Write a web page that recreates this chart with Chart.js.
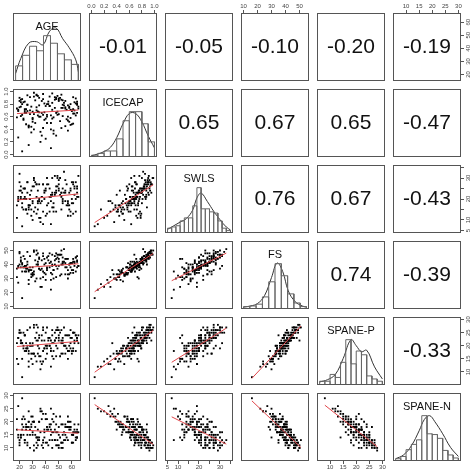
<!DOCTYPE html>
<html><head><meta charset="utf-8">
<script src="https://cdn.jsdelivr.net/npm/chart.js@4"></script>
<style>
html,body{margin:0;padding:0;background:#fff;width:474px;height:474px;overflow:hidden;position:relative}
canvas{position:absolute}
</style></head><body>
<script>
const varNames = ['AGE','ICECAP','SWLS','FS','SPANE-P','SPANE-N'];
const age = [45,23,61,34,52,29,38,57,19,48,33,64,26,41,55,22,47,36,59,30,43,62,27,50,35,21,58,40,31,53,24,46,63,28,39,56,20,44,32,60,25,49,37,54,18,42,65,29,51,34,22,57,45,38,61,27,48,33,53,23,40,62,30,47,36,58,21,44,55,26,41,64,31,50,19,43,59,35,24,52,
 28,55,37,63,20,46,33,59,41,25,52,30,61,44,22,49,35,57,27,64,39,18,50,31,60,43,24,54,36,47,21,58,32,45,62,26,40,53,29,56,34,48,19,65,38,23,51,42,60,27,33,46,55,22,39,63,30,50,25,44,57,35,20,48,61,28,41,53,37,24,59,31,45,64,26,52,38,21,49,34];
const icecap = [.82,.55,.91,.68,.42,.76,.88,.60,.71,.30,.95,.66,.79,.50,.85,.63,.74,.20,.80,.58,.92,.70,.45,.87,.67,.83,.52,.77,.98,.61,.72,.38,.89,.64,.81,.56,.75,.10,.86,.69,.48,.93,.66,.78,.59,.84,.73,.35,.90,.62,.80,.54,.71,.96,.65,.43,.88,.70,.79,.57,.25,.83,.68,.91,.60,.76,.87,.50,.73,.94,.63,.81,.40,.85,.69,.77,.47,.90,.66,.74,
 .70,.45,.85,.62,.90,.33,.75,.58,.80,.66,.95,.52,.72,.40,.88,.68,.60,.78,.15,.84,.55,.73,.64,.92,.48,.77,.69,.82,.36,.87,.61,.74,.50,.97,.65,.79,.57,.86,.44,.71,.68,.90,.27,.76,.63,.83,.53,.80,.70,.46,.94,.59,.75,.05,.67,.81,.56,.89,.72,.62,.38,.78,.85,.66,.49,.91,.60,.74,.30,.84,.71,.64,.57,.79,.69,.87,.42,.76,.63,.93];
const swls = [22,20,28,18,15,24,27,19,20,14,27,21,23,13,29,18,23,11,24,18,25,22,17,25,20,26,15,25,30,19,21,16,28,20,24,17,24,8,28,20,15,26,21,23,17,27,21,15,30,19,23,18,23,27,18,17,26,21,25,15,12,25,19,31,18,23,24,19,23,28,17,25,14,27,21,21,14,27,20,23,
 17,24,21,14,28,18,13,25,30,20,23,10,27,22,16,31,19,12,15,26,20,11,24,29,18,14,25,33,9,22,21,17,16,30,26,13,24,20,12,27,15,23,19,31,8,25,22,18,28,16,27,14,19,7,23,20,26,29,15,21,17,11,32,24,13,22,27,18,19,25,12,26,16,23,28,21,14,20,30,24];
const fs = [40,38,44,42,33,36,46,36,38,31,47,38,42,37,44,35,40,24,41,34,48,39,35,42,37,43,33,41,50,40,39,30,45,36,44,38,40,22,43,41,35,45,37,42,37,46,39,33,47,40,41,33,39,48,36,36,44,40,42,38,29,41,38,46,36,40,45,34,41,49,38,42,33,44,39,38,34,45,38,40,
 38,33,43,35,48,36,30,41,45,39,50,32,42,29,40,47,37,44,26,46,34,31,39,49,36,41,35,51,30,43,38,40,28,47,42,37,33,45,31,44,40,48,27,39,35,46,32,43,41,29,50,36,38,16,40,45,33,47,37,42,30,44,49,39,34,46,36,41,24,44,38,35,33,43,40,47,31,42,37,48];
const spaneP = [21,19,25,22,17,20,27,18,23,16,25,23,19,20,24,15,22,14,26,20,23,21,18,24,19,22,20,25,27,17,24,15,24,21,22,19,25,12,23,18,18,26,22,20,21,23,24,17,25,20,21,18,24,26,19,17,23,22,21,20,15,22,21,25,16,24,25,19,20,26,17,22,17,23,23,20,19,24,18,21,
 20,17,24,18,26,21,14,23,27,19,22,13,25,18,21,27,16,24,12,23,19,15,22,28,17,20,24,27,11,22,21,18,16,26,25,19,20,23,15,24,17,26,13,21,18,25,16,22,23,14,28,18,20,8,19,24,17,26,21,22,15,23,25,20,18,27,19,22,13,24,21,17,16,23,20,26,14,22,19,27];
const spaneN = [16,18,12,13,19,18,10,20,15,22,12,16,11,17,15,21,13,24,18,16,13,19,18,10,20,15,17,12,11,19,13,20,14,15,17,18,11,25,15,12,19,13,21,16,17,11,19,22,14,14,17,18,13,12,15,20,16,14,10,22,23,17,15,13,16,18,14,19,13,12,21,17,20,15,14,18,18,13,21,12,
 17,19,11,16,13,23,14,20,12,18,10,22,15,17,19,11,20,13,24,14,16,21,18,9,15,19,12,13,25,17,14,20,18,10,16,15,21,12,19,14,17,11,26,16,13,15,22,17,12,20,10,16,18,29,14,13,20,11,17,15,22,14,12,19,16,10,18,15,24,13,17,20,21,14,18,12,23,15,16,11];
const columns = [age, icecap, swls, fs, spaneP, spaneN];
const axisRanges = [[15,67],[-0.04,1.04],[3.8,36.2],[8.2,56.8],[5,31],[5,31]];
const tickValues = [[20,30,40,50,60],[0,0.2,0.4,0.6,0.8,1.0],[5,10,15,20,25,30,35],[10,20,30,40,50],[10,15,20,25,30],[10,15,20,25,30]];
const tickLabels = [['20','30','40','50','60'],['0.0','0.2','0.4','0.6','0.8','1.0'],['5','10','','20','','30',''],['10','20','30','40','50'],['10','15','20','25','30'],['10','15','20','25','30']];
const correlations = [[null,-0.01,-0.05,-0.10,-0.20,-0.19],[null,null,0.65,0.67,0.65,-0.47],[null,null,null,0.76,0.67,-0.43],[null,null,null,null,0.74,-0.39],[null,null,null,null,null,-0.33]];
const histEdges = [
 [17,22.33,27.67,33,38.33,43.67,49,54.33,59.67,65],
 [0,0.1,0.2,0.3,0.4,0.5,0.6,0.7,0.8,0.9,1.0],
 [5,7,9,11,13,15,17,19,21,23,25,27,29,31,33,35],
 [10,14.5,19,23.5,28,32.5,37,41.5,46,50.5,55],
 [6,8,10,12,14,16,18,20,22,24,26,28,30],
 [6,8,10,12,14,16,18,20,22,24,26,28,30]];
const histCounts = [
 [10,17,23,20,30,25,18,14,11],
 [3,6,10,10,30,60,75,75,55,25],
 [8,10,12,20,25,25,45,75,40,40,35,33,20,8,4],
 [4,5,8,20,45,75,55,25,10,4],
 [5,5,14,10,30,60,28,45,40,12,8,5],
 [3,6,15,22,28,60,36,35,30,14,8,4]];
const densityX = [
 [17,21,27,33,38,43,48,53,58,63,65],
 [0,0.1,0.2,0.3,0.4,0.5,0.6,0.7,0.8,0.9,1.0],
 [5,8,11,14,17,19,21,24,27,30,33,35],
 [10,15,20,25,30,34,38,42,47,52,55],
 [6,9,12,15,18,20,22,24,27,30],
 [6,9,12,15,17,19,21,24,27,30]];
const densityY = [
 [5,15,25,26,24,33,35,28,22,14,6],
 [2,5,9,16,32,55,72,72,58,35,15],
 [6,12,18,24,38,58,66,52,36,22,10,5],
 [3,5,9,22,52,76,62,30,12,5,3],
 [4,7,14,35,60,52,44,46,24,8],
 [3,8,20,40,55,60,52,36,18,6]];

const P0 = 13, PITCH = 76, PW = 68, M = 12;
const GRAY = '#555';

function fixSize(s){ if (s.isHorizontal()) s.height = M; else s.width = M; }
function scaleCfg(position, v, show, isY, ymax){
  const cfg = { type:'linear', position, display:true, afterFit: fixSize,
    grid:{ display:show, drawOnChartArea:false, drawTicks:true, tickLength:3, color:GRAY },
    border:{ display:false },
    ticks:{ display: show && !isY, font:{size:6, family:'Liberation Sans'}, color:'#444', padding:0, maxRotation:0, minRotation:0, autoSkip:false,
      callback:(val)=>{ const k = tickValues[v].findIndex(t=>Math.abs(t-val)<1e-9); return k>=0 ? tickLabels[v][k] : ''; } },
    afterBuildTicks: s => { s.ticks = tickValues[v].map(t=>({value:t})); }
  };
  if (ymax !== undefined){ cfg.min = 0; cfg.max = ymax; cfg.afterBuildTicks = s=>{ s.ticks=[]; }; }
  else { cfg.min = axisRanges[v][0]; cfg.max = axisRanges[v][1]; }
  return cfg;
}

const panelPlugin = {
  id:'panel',
  afterDraw(chart, args, o){
    const ctx = chart.ctx, a = chart.chartArea;
    ctx.save();
    ctx.strokeStyle = GRAY; ctx.lineWidth = 1;
    ctx.strokeRect(Math.round(a.left)+0.5, Math.round(a.top)+0.5, Math.round(a.right-a.left)-1, Math.round(a.bottom-a.top)-1);
    ctx.fillStyle = '#111'; ctx.textAlign='center'; ctx.textBaseline='middle';
    if (o.label){ ctx.font = '11px "Liberation Sans"'; ctx.fillText(o.label,(a.left+a.right)/2, a.top+14); }
    if (o.corr !== undefined && o.corr !== null){ ctx.font = '21px "Liberation Sans"'; ctx.fillText(o.corr.toFixed(2),(a.left+a.right)/2,(a.top+a.bottom)/2); }
    if (o.yAxisVar !== undefined && o.yAxisVar !== null){
      const sc = chart.scales[o.yScale];
      ctx.font = '6px "Liberation Sans"'; ctx.fillStyle = '#444';
      const xx = o.yScale==='y' ? a.left-7 : a.right+7;
      tickValues[o.yAxisVar].forEach((t,k)=>{
        const py = sc.getPixelForValue(t);
        ctx.save(); ctx.translate(xx, py); ctx.rotate(-Math.PI/2); ctx.fillText(tickLabels[o.yAxisVar][k],0,0); ctx.restore();
      });
    }
    ctx.restore();
  }
};

function fitLine(xs, ys){
  const n = xs.length; let mx=0,my=0; for(let k=0;k<n;k++){mx+=xs[k];my+=ys[k];} mx/=n; my/=n;
  let sxy=0,sxx=0; for(let k=0;k<n;k++){sxy+=(xs[k]-mx)*(ys[k]-my); sxx+=(xs[k]-mx)**2;}
  return [mx, my, sxy/sxx];
}
function histOutline(edges, counts){
  const pts = [{x:edges[0], y:0}];
  counts.forEach((h,k)=>{ pts.push({x:edges[k],y:h},{x:edges[k+1],y:h},{x:edges[k+1],y:0}); if (k+1<counts.length) pts.push({x:edges[k+1],y:0}); });
  return pts;
}

for (let i=0;i<6;i++){
  for (let j=0;j<6;j++){
    const c = document.createElement('canvas');
    const L = P0 + PITCH*j - M, T = P0 + PITCH*i - M, S = PW + 2*M;
    c.style.left = L+'px'; c.style.top = T+'px'; c.style.width = S+'px'; c.style.height = S+'px';
    c.width = S; c.height = S;
    document.body.appendChild(c);
    const showBottom = (i===5 && j%2===0), showTop = (i===0 && j%2===1);
    const showLeft = (j===0 && i%2===1), showRight = (j===5 && i%2===0);
    let datasets = [], ymax, opts = {};
    if (i===j){
      ymax = 1.5*Math.max(...histCounts[i]);
      datasets.push({ type:'line', data: histOutline(histEdges[i], histCounts[i]), borderColor:'#666', borderWidth:1, pointRadius:0, tension:0, fill:false });
      datasets.push({ type:'line', data: densityX[i].map((x,k)=>({x, y:densityY[i][k]})), borderColor:'#333', borderWidth:1, pointRadius:0, tension:0.4, fill:false });
      opts.label = varNames[i];
    } else if (i>j){
      const xs = columns[j], ys = columns[i];
      const [mx,my,b] = fitLine(xs,ys);
      const x0 = Math.min(...xs), x1 = Math.max(...xs);
      datasets.push({ type:'line', data:[{x:x0,y:my+b*(x0-mx)},{x:x1,y:my+b*(x1-mx)}], borderColor:'#e0464a', borderWidth:1, pointRadius:0 });
      datasets.push({ type:'scatter', data: xs.map((x,k)=>({x, y:ys[k]})), pointStyle:'rect', pointRadius:1.3, backgroundColor:'#000', borderColor:'#000', borderWidth:0 });
    } else {
      opts.corr = correlations[i][j];
    }
    if (showLeft){ opts.yAxisVar = i; opts.yScale='y'; }
    if (showRight){ opts.yAxisVar = i; opts.yScale='yr'; }
    const scales = {
      x: scaleCfg('bottom', j, showBottom, false),
      xt: scaleCfg('top', j, showTop, false),
      y: scaleCfg('left', i, showLeft, true, i===j? ymax: undefined),
      yr: scaleCfg('right', i, showRight, true, i===j? ymax: undefined)
    };
    new Chart(c, {
      type:'scatter',
      data:{ datasets },
      options:{
        responsive:false, animation:false, devicePixelRatio:1,
        layout:{ padding:0 },
        plugins:{ legend:{display:false}, tooltip:{enabled:false}, panel: opts },
        scales
      },
      plugins:[panelPlugin]
    });
  }
}
</script>
</body></html>
